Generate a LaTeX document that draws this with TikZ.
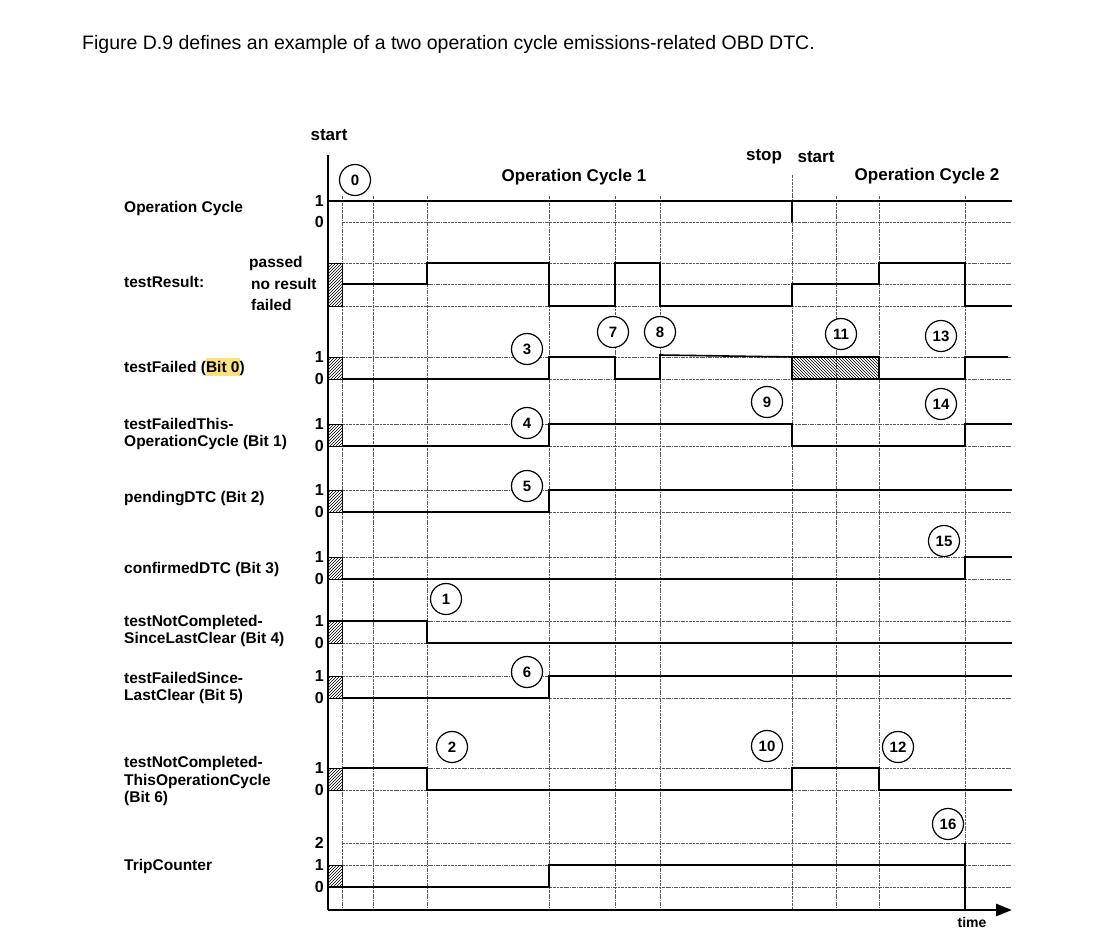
\documentclass[tikz,border=0pt]{standalone}
\usepackage{fontspec}
\setmainfont{Liberation Sans}
\usetikzlibrary{patterns,arrows.meta}
\begin{document}
\begin{tikzpicture}[x=1pt,y=-1pt,
  lbl/.style={font=\bfseries\fontsize{15.5}{17.5}\selectfont,anchor=west,align=left,inner sep=0},
  lev/.style={font=\bfseries\fontsize{16}{16}\selectfont,anchor=east,inner sep=0},
  num/.style={circle,draw,line width=1.2pt,minimum size=31,inner sep=0,font=\bfseries\fontsize{15}{15}\selectfont},
  hdr/.style={font=\bfseries\fontsize{17}{17}\selectfont},
  sig/.style={line width=1.6pt},
  grid/.style={densely dash dot dot,line width=0.5pt,gray!70!black},
  hat/.style={draw,pattern=north east lines},
  hatb/.style={draw,pattern=north west lines}]
\useasboundingbox (0,0) rectangle (1102,941);
\node[anchor=west,font=\fontsize{19.5}{22}\selectfont,inner sep=0] (title) at (82,44) {Figure D.9 defines an example of a two operation cycle emissions-related OBD DTC.};
% vertical grid
\foreach \x in {342,373,427,549,615,660,836,879,965} \draw[grid] (\x,196) -- (\x,910);
\draw[grid] (792,175) -- (792,910);
% horizontal grid levels
\foreach \y in {201,222,263,284,306,357,379,424,446,490,512,557,579,621,643,676,698,768,790,843,865,887}
  \draw[grid] (342,\y) -- (1012,\y);
% axes
\coordinate (ytop) at (328,155);
\coordinate (orig) at (328,910);
\coordinate (tend) at (1012,910);
\draw[line width=2.8pt] (ytop) -- (orig);
\draw[line width=2.8pt,-{Triangle[length=16pt,width=12pt]}] (orig) -- (tend);
\node[font=\bfseries\fontsize{14}{14}\selectfont] (time) at (972,922) {time};
% hatch boxes at start
\foreach \a/\b in {263/306,357/379,424/446,490/512,557/579,621/643,676/698,768/790,865/887}
  \draw[hat] (328,\a) rectangle (342,\b);
% signals
\draw[sig] (328,201) -- (1012,201);
\draw[line width=2.8pt] (792,201) -- (792,222);
\draw[sig] (342,284) -- (427,284) -- (427,263) -- (549,263) -- (549,306) -- (615,306) -- (615,263) -- (660,263) -- (660,306) -- (792,306) -- (792,284) -- (879,284) -- (879,263) -- (965,263) -- (965,306) -- (1012,306);
\draw[sig] (342,379) -- (549,379) -- (549,357) -- (615,357) -- (615,379) -- (660,379) -- (660,355) -- (792,357);
\draw[hatb,sig] (792,357) rectangle (879,379);
\draw[sig] (879,379) -- (965,379) -- (965,357) -- (1008,357);
\draw[sig] (342,446) -- (549,446) -- (549,424) -- (792,424) -- (792,446) -- (965,446) -- (965,424) -- (1012,424);
\draw[sig] (342,512) -- (549,512) -- (549,490) -- (1012,490);
\draw[sig] (342,579) -- (965,579) -- (965,557) -- (1012,557);
\draw[sig] (328,621) -- (427,621) -- (427,643) -- (1012,643);
\draw[sig] (342,698) -- (549,698) -- (549,676) -- (1012,676);
\draw[sig] (342,768) -- (427,768) -- (427,790) -- (792,790) -- (792,768) -- (879,768) -- (879,790) -- (1012,790);
\draw[sig] (328,887) -- (549,887) -- (549,865) -- (965,865) -- (965,843) -- (965,910);
% labels
\node[lbl] (l0) at (124,208) {Operation Cycle};
\node[lbl] (l1) at (124,282) {testResult:};
\node[lbl] (l2) at (124,367) {testFailed (\colorbox{yellow!60!orange!50}{\kern-3pt Bit 0\kern-3pt})};
\node[lbl] (l3) at (124,434) {testFailedThis-\\OperationCycle (Bit 1)};
\node[lbl] (l4) at (124,499) {pendingDTC (Bit 2)};
\node[lbl] (l5) at (124,569) {confirmedDTC (Bit 3)};
\node[lbl] (l6) at (124,631) {testNotCompleted-\\SinceLastClear (Bit 4)};
\node[lbl] (l7) at (124,688) {testFailedSince-\\LastClear (Bit 5)};
\node[lbl] (l8) at (124,781) {testNotCompleted-\\ThisOperationCycle\\(Bit 6)};
\node[lbl] (l9) at (124,866) {TripCounter};
\node[lbl] (pa) at (249,263) {passed};
\node[lbl] (nr) at (251,284) {no result};
\node[lbl] (fa) at (251,305) {failed};
% level numbers
\foreach \y/\t in {201/1,222/0,357/1,379/0,424/1,446/0,490/1,512/0,557/1,579/0,621/1,643/0,676/1,698/0,768/1,790/0,843/2,865/1,887/0}
  \node[lev] at (324,\y) {\t};
% headers
\node[hdr] (s1) at (329,135) {start};
\node[hdr] (st) at (764,157) {stop};
\node[hdr] (s2) at (816,157) {start};
\node[hdr] (oc1) at (574,177) {Operation Cycle 1};
\node[hdr] (oc2) at (927,176) {Operation Cycle 2};
% circled numbers
\foreach \n/\x/\y in {0/355/180,1/446/599,2/452/747,3/527/349,4/527/423,5/527/486,6/527/672,7/613/332,8/660/332,9/767/402,10/767/746,11/841/334,12/898/747,13/941/336,14/941/404,15/944/541,16/948/824}
  \node[num,fill=white] (c\n) at (\x,\y) {\n};
\end{tikzpicture}
\end{document}
